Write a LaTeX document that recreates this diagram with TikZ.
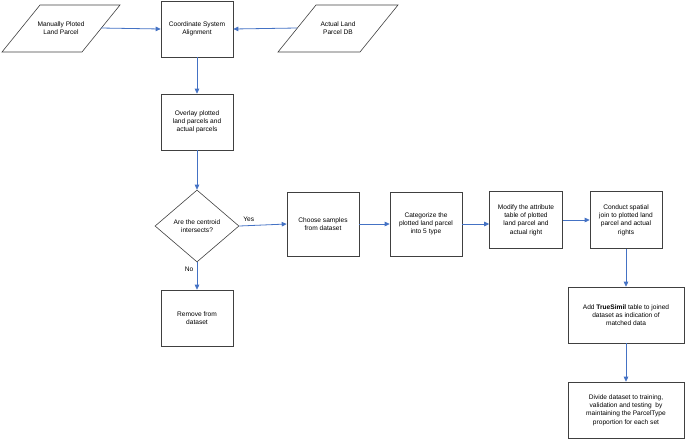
\documentclass[tikz,border=0pt]{standalone}
\usepackage{fontspec}
\setmainfont{Liberation Sans}
\usetikzlibrary{shapes.geometric,arrows.meta}
\begin{document}
\begin{tikzpicture}[x=1pt,y=-1pt,
  box/.style={draw=black!75,line width=0.6pt,minimum width=72pt,minimum height=56pt,align=center,font=\fontsize{6.6}{8.2}\selectfont,inner sep=1pt},
  par/.style={draw=black!75,line width=0.6pt},
  txt/.style={align=center,font=\fontsize{6.6}{8.2}\selectfont},
  arr/.style={draw={rgb,255:red,68;green,114;blue,196},line width=0.8pt,-{Triangle[length=5pt,width=4.5pt]}}]
\useasboundingbox (0,0) rectangle (685,440);
% parallelograms
\draw[par] (2,52) -- (40,5) -- (120,5) -- (82,52) -- cycle;
\node[txt] (man) at (61,28) {Manually Ploted\\Land Parcel};
\coordinate (manR) at (101,28);
\draw[par] (278,52) -- (316,5) -- (398,5) -- (360,52) -- cycle;
\node[txt] (act) at (338,28) {Actual Land\\Parcel DB};
\coordinate (actL) at (297,28);
\node[box] (csa) at (197,29) {Coordinate System\\Alignment};
\node[box] (ov) at (197,122) {Overlay plotted\\land parcels and\\actual parcels};
\node[diamond,draw=black!75,line width=0.6pt,minimum width=84pt,minimum height=72pt,inner sep=0pt,align=center,font=\fontsize{6.6}{8.2}\selectfont] (dec) at (197,226) {Are the centroid\\intersects?};
\node[box] (rem) at (197,318) {Remove from\\dataset};
\node[box,minimum height=64pt] (cho) at (323,224) {Choose samples\\from dataset};
\node[box,minimum height=64pt] (cat) at (426,224) {Categorize the\\plotted land parcel\\into 5 type};
\node[box,minimum height=57pt,minimum width=73pt] (mod) at (526,220) {Modify the attribute\\table of plotted\\land parcel and\\actual right};
\node[box,minimum height=57pt] (con) at (626,220) {Conduct spatial\\join to plotted land\\parcel and actual\\rights};
\node[box,minimum width=116pt] (add) at (626,315) {Add \textbf{TrueSimil} table to joined\\dataset as indication of\\matched data};
\node[box,minimum width=116pt] (div) at (626,410) {Divide dataset to training,\\validation and testing~ by\\maintaining the ParcelType\\proportion for each set};
\draw[arr] (manR) -- (csa.west);
\draw[arr] (actL) -- (csa.east);
\draw[arr] (csa) -- (ov);
\draw[arr] (ov) -- (dec);
\draw[arr] (dec.east) -- node[txt,above,pos=0.2]{Yes} (cho.west);
\draw[arr] (dec.south) -- node[txt,left,pos=0.25]{No} (rem.north);
\draw[arr] (cho) -- (cat);
\draw[arr] (cat.east) -- (cat.east -| mod.west);
\draw[arr] (mod) -- (con);
\draw[arr] (con) -- (add);
\draw[arr] (add) -- (div);
\end{tikzpicture}
\end{document}
